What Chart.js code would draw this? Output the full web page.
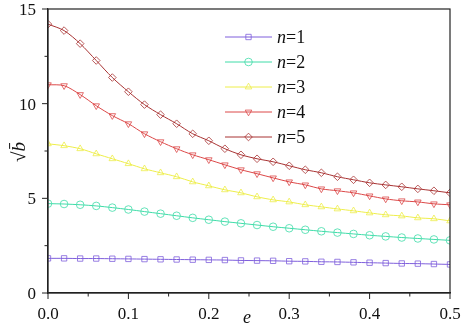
<!DOCTYPE html>
<html>
<head>
<meta charset="utf-8">
<script src="https://cdn.jsdelivr.net/npm/chart.js@4/dist/chart.umd.min.js"></script>
</head>
<body style="margin:0">
<div id="wrap" style="position:relative;width:474px;height:335px;">
  <canvas id="myChart" width="474" height="335"></canvas>
  <div id="labels" style="position:absolute;left:0;top:0;width:474px;height:335px;"></div>
</div>
<script>
// データ（e = 0 ～ 0.5, 0.02刻み）
const eValues = [0, 0.02, 0.04, 0.06, 0.08, 0.10, 0.12, 0.14, 0.16, 0.18, 0.20, 0.22, 0.24,
                 0.26, 0.28, 0.30, 0.32, 0.34, 0.36, 0.38, 0.40, 0.42, 0.44, 0.46, 0.48, 0.50];
const seriesNames = ['1', '2', '3', '4', '5'];
const n1 = [1.83, 1.83, 1.82, 1.82, 1.81, 1.80, 1.79, 1.78, 1.77, 1.76, 1.75, 1.74, 1.72,
            1.71, 1.70, 1.68, 1.67, 1.65, 1.64, 1.62, 1.60, 1.58, 1.56, 1.55, 1.53, 1.51];
const n2 = [4.72, 4.70, 4.66, 4.60, 4.51, 4.41, 4.30, 4.19, 4.08, 3.97, 3.87, 3.77, 3.68,
            3.59, 3.50, 3.42, 3.34, 3.26, 3.19, 3.12, 3.05, 2.99, 2.93, 2.88, 2.83, 2.78];
const n3 = [7.88, 7.78, 7.62, 7.35, 7.09, 6.83, 6.56, 6.35, 6.14, 5.87, 5.66, 5.45, 5.29,
            5.08, 4.92, 4.81, 4.66, 4.55, 4.44, 4.34, 4.23, 4.13, 4.07, 3.97, 3.92, 3.81];
const n4 = [11.0, 10.95, 10.48, 9.89, 9.37, 8.94, 8.41, 7.99, 7.62, 7.30, 7.04, 6.77, 6.51,
            6.30, 6.08, 5.87, 5.71, 5.50, 5.40, 5.29, 5.13, 4.97, 4.87, 4.81, 4.71, 4.66];
const n5 = [14.2, 13.86, 13.17, 12.28, 11.38, 10.63, 9.95, 9.42, 8.94, 8.41, 8.04, 7.62, 7.30,
            7.09, 6.93, 6.72, 6.51, 6.35, 6.14, 5.98, 5.82, 5.71, 5.61, 5.50, 5.40, 5.29];
const yTicks = [0, 5, 10, 15];
const xTicks = [0.0, 0.1, 0.2, 0.3, 0.4, 0.5];

// 見た目の設定
const colors = ['#7f5fdc', '#3fdca8', '#eeee4a', '#dc4848', '#a83232'];
const styles = [
    { pointStyle: 'rect', rotation: 0 },
    { pointStyle: 'circle', rotation: 0 },
    { pointStyle: 'triangle', rotation: 0 },
    { pointStyle: 'triangle', rotation: 180 },
    { pointStyle: 'rectRot', rotation: 0 }
];
const allSeries = [n1, n2, n3, n4, n5];

const datasets = allSeries.map((vals, i) => ({
    label: 'n=' + seriesNames[i],
    data: vals.map((v, j) => ({ x: eValues[j], y: v })),
    borderColor: colors[i],
    borderWidth: 1,
    pointStyle: styles[i].pointStyle,
    rotation: styles[i].rotation,
    pointRadius: 3.8,
    pointBorderWidth: 0.8,
    pointBorderColor: colors[i],
    pointBackgroundColor: 'rgba(0,0,0,0)',
    tension: 0.3
}));

const labelArea = document.getElementById('labels');

// 文字ラベル（HTML）を置く
function addLabel(html, x, y, size, italic, transform) {
    const d = document.createElement('div');
    d.innerHTML = html;
    d.style.position = 'absolute';
    d.style.whiteSpace = 'nowrap';
    d.style.color = '#111';
    d.style.font = (italic ? 'italic ' : '') + size + "px/1 'Liberation Serif'";
    d.style.left = x + 'px';
    d.style.top = y + 'px';
    d.style.transform = transform;
    labelArea.appendChild(d);
}

// 目盛り線・枠・凡例を描くプラグイン
const framePlugin = {
    id: 'frame',
    afterDraw(chart) {
        const ctx = chart.ctx;
        const a = chart.chartArea;
        const xs = chart.scales.x;
        const ys = chart.scales.y;
        ctx.save();
        ctx.strokeStyle = '#222';
        ctx.lineWidth = 1.2;
        ctx.strokeRect(a.left, a.top, a.right - a.left, a.bottom - a.top);

        // 目盛り（外向き）
        ctx.lineWidth = 1;
        ys.ticks.forEach(t => {
            const y = ys.getPixelForValue(t.value);
            const len = yTicks.includes(t.value) ? 6 : 3.5;
            ctx.beginPath();
            ctx.moveTo(a.left - len, y);
            ctx.lineTo(a.left, y);
            ctx.stroke();
        });
        xs.ticks.forEach(t => {
            const x = xs.getPixelForValue(t.value);
            const major = xTicks.some(v => Math.abs(v - t.value) < 1e-9);
            const len = major ? 6 : 3.5;
            ctx.beginPath();
            ctx.moveTo(x, a.bottom);
            ctx.lineTo(x, a.bottom + len);
            ctx.stroke();
        });

        // 凡例の線とマーカー
        chart.data.datasets.forEach((ds, i) => {
            const y = 37 + i * 25;
            ctx.strokeStyle = ds.borderColor;
            ctx.lineWidth = 1;
            ctx.beginPath();
            ctx.moveTo(225, y);
            ctx.lineTo(272, y);
            ctx.stroke();
            ctx.fillStyle = 'rgba(0,0,0,0)';
            ctx.lineWidth = 0.8;
            Chart.helpers.drawPoint(ctx, {
                pointStyle: ds.pointStyle, rotation: ds.rotation,
                radius: 3.8, borderWidth: 0.8
            }, 248.5, y);
        });
        ctx.restore();

        // 文字はHTMLで重ねる
        labelArea.innerHTML = '';
        yTicks.forEach(v => {
            addLabel(String(v), a.left - 12, ys.getPixelForValue(v), 17, false, 'translate(-100%, -50%)');
        });
        xTicks.forEach(v => {
            addLabel(v.toFixed(1), xs.getPixelForValue(v), a.bottom + 20, 17, false, 'translate(-50%, -50%)');
        });
        seriesNames.forEach((s, i) => {
            addLabel('<i>n</i>=' + s, 277, 37 + i * 25, 18, false, 'translate(0, -50%)');
        });
        addLabel('e', 247, 317, 18, true, 'translate(-50%, -50%)');
        addLabel('\u221A<i>b\u0304</i>', 18, 152, 19, false, 'translate(-50%, -50%) rotate(-90deg)');
    }
};

const ctx = document.getElementById('myChart').getContext('2d');
const myChart = new Chart(ctx, {
    type: 'line',
    data: { datasets: datasets },
    options: {
        responsive: false,
        animation: false,
        layout: { padding: { top: 9, right: 24, left: 0, bottom: 0 } },
        plugins: { legend: { display: false }, tooltip: { enabled: false } },
        scales: {
            x: {
                type: 'linear',
                min: 0, max: 0.5,
                grid: { display: false, drawTicks: false },
                border: { display: true, color: '#222', width: 1.2 },
                ticks: { display: false, stepSize: 0.05, autoSkip: false },
                afterFit: s => { s.height = 42; }
            },
            y: {
                min: 0, max: 15,
                grid: { display: false, drawTicks: false },
                border: { display: true, color: '#222', width: 1.2 },
                ticks: { display: false, stepSize: 2.5, autoSkip: false },
                afterFit: s => { s.width = 48; }
            }
        }
    },
    plugins: [framePlugin]
});
</script>
</body>
</html>
